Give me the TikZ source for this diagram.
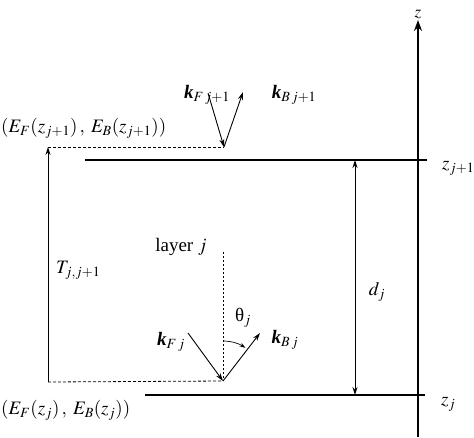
\documentclass[tikz,border=0pt]{standalone}
\usepackage{mathptmx}
\usepackage{fontspec}
\setmainfont{Liberation Serif}
\usetikzlibrary{arrows.meta}

\tikzset{
  lbl/.style={font=\fontsize{19}{22}\selectfont, inner sep=1pt},
  vec/.style={-{Stealth[length=8pt,width=5pt]}, line width=0.9pt},
  bound/.style={line width=1.1pt},
  guide/.style={densely dashed, line width=0.8pt}
}
\newcommand{\kvec}{\textbf{\textit{k}}}

\begin{document}
\begin{tikzpicture}[x=1pt,y=-1pt]
\useasboundingbox (0,0) rectangle (474,437);

% z axis
\coordinate (zbot) at (418,437);
\coordinate (ztop) at (418,20);
\draw[line width=1.8pt, -{Stealth[length=11pt,width=8pt]}] (zbot) -- (ztop);
\node[lbl, font=\fontsize{17}{20}\selectfont, anchor=south] (zname) at (ztop) {$z$};

% layer boundaries
\coordinate (topl) at (85,160);
\coordinate (topr) at (427,160);
\coordinate (botl) at (145,395);
\coordinate (botr) at (425,395);
\draw[bound] (topl) -- (topr);
\draw[bound] (botl) -- (botr);
\node[lbl, anchor=west] (ztoplabel) at (441,168) {$z_{j+1}$};
\node[lbl, anchor=west] (zbotlabel) at (440,404) {$z_j$};

% thickness
\coordinate (dtop) at (355,160);
\coordinate (dbot) at (355,395);
\draw[vec, {Stealth[length=8pt,width=5pt]}-{Stealth[length=8pt,width=5pt]}] (dtop) -- (dbot);
\node[lbl] (dlabel) at (377,292) {$d_j$};

% field amplitudes and transfer matrix
\coordinate (etop) at (48,147);
\coordinate (ebot) at (48,382);
\coordinate (ptop) at (224,147);
\coordinate (pbot) at (223,381);
\draw[guide] (etop) -- (ptop);
\draw[guide] (ebot) -- (pbot);
\draw[vec] (ebot) -- (etop);
\node[lbl, anchor=west] (tlabel) at (55,270) {$T_{j,j+1}$};
\node[lbl, anchor=west] (etoplabel) at (0,128) {$(E_F(z_{j+1})\,,\;E_B(z_{j+1}))$};
\node[lbl, anchor=west] (ebotlabel) at (0,410) {$(E_F(z_j)\,,\;E_B(z_j))$};

% wave vectors at z_{j+1}
\coordinate (kf1) at (208,93);
\coordinate (kb1) at (243,92);
\draw[vec] (kf1) -- (ptop);
\draw[vec] (ptop) -- (kb1);
\node[lbl] (kf1label) at (207,95) {$\kvec_{F\,j+1}$};
\node[lbl] (kb1label) at (294,95) {$\kvec_{B\,j+1}$};

% wave vectors at z_j
\node[lbl] (layer) at (181,247) {layer $j$};
\coordinate (normal) at (223,252);
\draw[densely dashed, dash pattern=on 2pt off 2pt, line width=0.9pt] (normal) -- (pbot);
\coordinate (kf0) at (188,333);
\coordinate (kb0) at (260,333);
\draw[vec] (kf0) -- (pbot);
\draw[vec] (pbot) -- (kb0);
\draw[-{Stealth[length=6pt,width=4pt]}, line width=0.7pt] ([shift={(0,-40)}]pbot) arc[start angle=-90, end angle=-56, radius=40];
\node[lbl] (theta) at (243,318) {θ$_j$};
\node[lbl] (kf0label) at (171,342) {$\kvec_{F\,j}$};
\node[lbl] (kb0label) at (285,340) {$\kvec_{B\,j}$};
\end{tikzpicture}
\end{document}
